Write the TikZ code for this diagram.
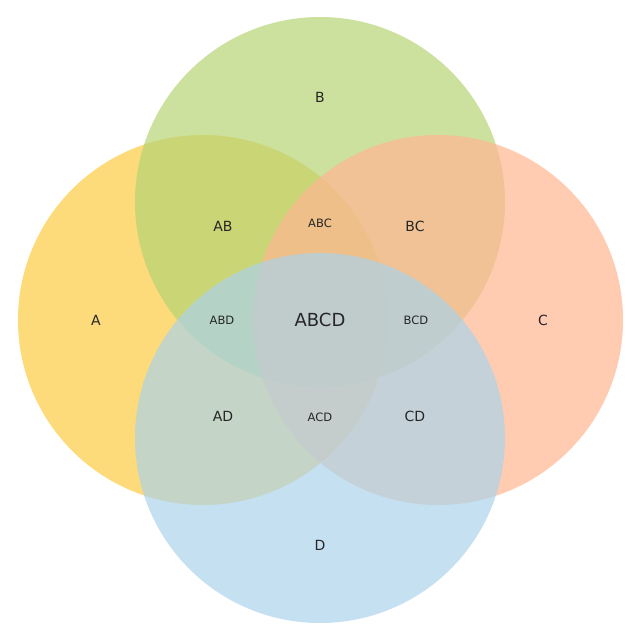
\documentclass[tikz,border=0pt]{standalone}
\usepackage{fontspec}
\setmainfont{DejaVu Sans}
\definecolor{colA}{RGB}{252,202,65}
\definecolor{colB}{RGB}{182,212,115}
\definecolor{colC}{RGB}{255,182,145}
\definecolor{colD}{RGB}{172,211,233}
\begin{document}
\begin{tikzpicture}[
    x=1pt, y=-1pt,
    set/.style = {circle, minimum size=370pt, inner sep=0pt, fill opacity=0.7},
    lbl/.style = {font=\fontsize{14}{16}\selectfont, text=black!85},
    small/.style = {font=\fontsize{11.5}{13}\selectfont, text=black!85}
    ]
    \useasboundingbox (0,0) rectangle (640,640);
    %sets
    \node[set,fill=colA] (A) at (203,320) {};
    \node[set,fill=colB] (B) at (320,202) {};
    \node[set,fill=colC] (C) at (438,320) {};
    \node[set,fill=colD] (D) at (320,438) {};
    %labels
    \node[lbl] (lA) at (96,320) {A};
    \node[lbl] (lB) at (320,97) {B};
    \node[lbl] (lC) at (543,320) {C};
    \node[lbl] (lD) at (320,545) {D};
    \node[lbl] (lAB) at (223,226) {AB};
    \node[lbl] (lBC) at (415,226) {BC};
    \node[lbl] (lAD) at (223,416) {AD};
    \node[lbl] (lCD) at (415,416) {CD};
    \node[small] (lABC) at (320,223) {ABC};
    \node[small] (lABD) at (222,320) {ABD};
    \node[small] (lBCD) at (416,320) {BCD};
    \node[small] (lACD) at (320,417) {ACD};
    \node[font=\fontsize{18}{20}\selectfont, text=black!85] (lABCD) at (320,320) {ABCD};
\end{tikzpicture}
\end{document}
